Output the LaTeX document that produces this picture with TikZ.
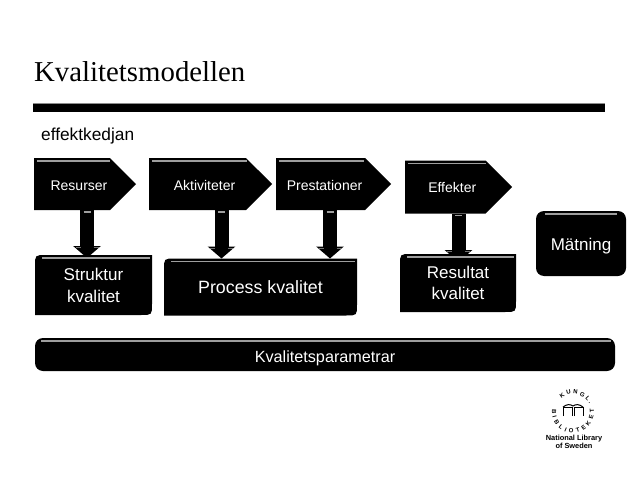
\documentclass[tikz,border=0pt]{standalone}
\usepackage{fontspec}
\setmainfont{Liberation Sans}
\newfontfamily\titlefont{Liberation Serif}
\usetikzlibrary{arrows.meta,backgrounds,shapes.symbols,decorations.text}
\newcommand{\fsize}[1]{\fontsize{#1}{1.2\dimexpr#1pt\relax}\selectfont}
% box with two round and two square corners
\newcommand{\boxback}[1]{
  \begin{pgfonlayer}{background}
    \fill (#1.south west) -- ([yshift=-11pt]#1.north west) .. controls (#1.north west) .. ([xshift=11pt]#1.north west) -- (#1.north east) -- ([yshift=11pt]#1.south east) .. controls (#1.south east) .. ([xshift=-11pt]#1.south east) -- cycle;
  \end{pgfonlayer}
}
\newcommand{\shine}[3]{\draw[shine] ([shift={(#2,3)}]#1) -- ++(#3,0);}
% block arrow with small marks on the wings of its head
\newcommand{\blockarrow}[2]{
  \coordinate (tip) at (#2);
  \draw[block arrow] (tip |- #1) -- (tip);
  \draw[shine] ([xshift=-3.5pt,yshift=-2pt]tip |- #1) -- ++(7,0);
  \draw[wing] ([shift={(-11.5,-10.5)}]tip) -- ++(5,0);
  \draw[wing] ([shift={(6.5,-10.5)}]tip) -- ++(5,0);
}
\begin{document}
\begin{tikzpicture}[x=1pt,y=-1pt]
  \tikzset{
    step box/.style={signal, signal to=east, signal pointer angle=90, fill=black, text=white, inner sep=0pt, outer sep=0pt, minimum height=52pt, anchor=west, text height=12pt, text depth=0pt, font=\fsize{14}},
    quality/.style={inner sep=0pt, outer sep=0pt, text=white, align=center, font=\fsize{17}},
    round box/.style={rounded corners=8pt, fill=black, inner sep=0pt, outer sep=0pt, text=white, font=\fsize{17}},
    block arrow/.style={line width=14pt, -{Triangle[width=27pt,length=12pt]}},
    shine/.style={line width=1.6pt, color=black!38},
    wing/.style={line width=0.6pt, color=black!55},
  }
  \useasboundingbox (0,0) rectangle (638,479);

  \node[anchor=base west, font=\titlefont\fsize{28.8}, inner sep=0pt] (title) at (34,81) {Kvalitetsmodellen};
  \fill[black] (33,103) rectangle (605,112);
  \draw[line width=0.8pt, black!45] (33,103) -- (605,103);
  \node[anchor=base west, font=\fsize{17.3}, inner sep=0pt] (chain) at (41,140.5) {effektkedjan};

  \node[step box, minimum width=102pt] (Resurser) at (34,184) {\hspace*{14pt}Resurser};
  \node[step box, minimum width=123pt] (Aktiviteter) at (149,184) {\hspace*{14pt}Aktiviteter};
  \node[step box, minimum width=115pt] (Prestationer) at (276,184) {\hspace*{8pt}Prestationer};
  \node[step box, minimum width=107pt, minimum height=53pt, text height=10pt] (Effekter) at (405,187) {\hspace*{14pt}Effekter};

  \node[quality, minimum width=117pt, minimum height=60pt] (Struktur) at (93.5,285) {Struktur\\[1.5pt]kvalitet};
  \node[quality, minimum width=193pt, minimum height=57pt, font=\fsize{17.8}] (Process) at (260.5,287) {Process kvalitet};
  \node[quality, minimum width=116pt, minimum height=58pt] (Resultat) at (458,283) {Resultat\\[1pt]kvalitet};
  \boxback{Struktur}
  \boxback{Process}
  \boxback{Resultat}

  \node[round box, minimum width=90pt, minimum height=65pt] (Matning) at (581,243.5) {\raisebox{-7pt}[0pt][0pt]{Mätning}};
  \node[round box, minimum width=580pt, minimum height=33pt, font=\fsize{16.2}] (Parametrar) at (325,354.5) {\raisebox{-8pt}[0pt][0pt]{Kvalitetsparametrar}};

  \blockarrow{Resurser.south}{[xshift=-6.5pt,yshift=-3pt]Struktur.north}
  \blockarrow{Aktiviteter.south}{[xshift=-39pt]Process.north}
  \blockarrow{Prestationer.south}{[xshift=69.5pt]Process.north}
  \blockarrow{Effekter.south}{[xshift=0.5pt,yshift=-8pt]Resultat.north}

  \shine{Resurser.north west}{3}{73}
  \shine{Aktiviteter.north west}{3}{95}
  \shine{Prestationer.north west}{3}{85}
  \shine{Effekter.north west}{3}{78}
  \shine{Struktur.north west}{7}{108}
  \shine{Process.north west}{7}{184}
  \shine{Resultat.north west}{7}{107}
  \shine{Matning.north west}{9}{72}
  \shine{Parametrar.north west}{6}{570}

  % logo
  \begin{scope}[shift={(573,412)},x=1pt,y=1pt]
    \path[decorate, decoration={text along path, text align={fit to path}, text={|\bfseries\fsize{6}|KUNGL.}}] (130:18pt) arc[start angle=130, end angle=25, radius=18pt];
    \path[decorate, decoration={text along path, text align={fit to path}, text={|\bfseries\fsize{6}|BIBLIOTEKET}}] (172:21pt) arc[start angle=172, end angle=368, radius=21pt];
    \draw[line width=1pt] (-10,-4) -- (-10,5) -- (-1,5) -- (-1,-4) (1,-4) -- (1,5) -- (10,5) -- (10,-4);
    \draw[line width=1pt] (-10,5) .. controls (-6,8) and (-3,8) .. (0,6) .. controls (3,8) and (6,8) .. (10,5);
  \end{scope}
  \node[font=\bfseries\fsize{7.4}, align=center, inner sep=0pt] (library) at (574,442) {National Library\\[-1.5pt]of Sweden};
\end{tikzpicture}
\end{document}
